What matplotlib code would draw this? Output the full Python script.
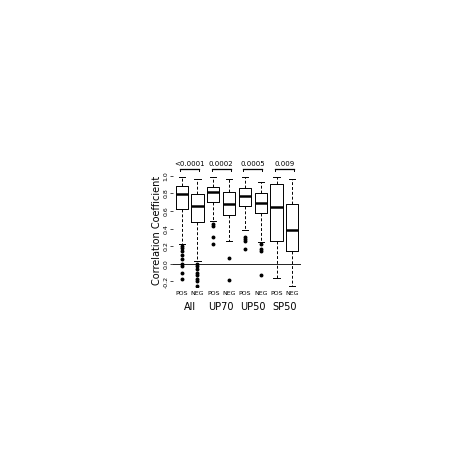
import matplotlib
matplotlib.use("Agg")
import matplotlib.pyplot as plt

groups = ["All", "UP70", "UP50", "SP50"]
pvals = ["<0.0001", "0.0002", "0.0005", "0.009"]
sub = ["POS", "NEG"]
# whislo, q1, med, q3, whishi
stats = [
    (0.23, 0.62, 0.79, 0.88, 0.98), (0.03, 0.48, 0.66, 0.79, 0.96),
    (0.49, 0.70, 0.81, 0.87, 0.98), (0.26, 0.55, 0.68, 0.81, 0.96),
    (0.38, 0.66, 0.77, 0.86, 0.98), (0.25, 0.58, 0.69, 0.80, 0.93),
    (-0.16, 0.26, 0.64, 0.91, 0.98), (-0.25, 0.15, 0.38, 0.68, 0.96),
]
fliers = [
    [0.2, 0.18, 0.15, 0.1, 0.05, 0.0, -0.02, -0.1, -0.17],
    [0.0, -0.03, -0.06, -0.1, -0.13, -0.17, -0.2, -0.25],
    [0.45, 0.43, 0.3, 0.22],
    [0.07, -0.18],
    [0.3, 0.28, 0.26, 0.17],
    [0.22, 0.17, 0.15, -0.13],
    [], [],
]

bxp = [dict(whislo=s[0], q1=s[1], med=s[2], q3=s[3], whishi=s[4], fliers=f)
       for s, f in zip(stats, fliers)]
pos = list(range(1, 9))

fig = plt.figure(figsize=(4.74, 4.74), dpi=100)
ax = fig.add_axes([0.365, 0.395, 0.27, 0.24])
ax.bxp(bxp, positions=pos, widths=0.78, showfliers=True,
       boxprops=dict(linewidth=0.7, color="black"),
       medianprops=dict(linewidth=1.8, color="black"),
       whiskerprops=dict(linewidth=0.7, color="black", linestyle=(0, (3, 2))),
       capprops=dict(linewidth=0.7, color="black"),
       flierprops=dict(marker="o", markersize=1.8, markerfacecolor="black",
                       markeredgecolor="black"))
ax.axhline(0, color="black", linewidth=0.6)
ax.set_xlim(0.45, 8.55)
ax.set_ylim(-0.26, 1.03)
for sp in ax.spines.values():
    sp.set_visible(False)
ax.set_yticks([-0.2, 0.0, 0.2, 0.4, 0.6, 0.8, 1.0])
ax.set_yticklabels(["-0.2", "0.0", "0.2", "0.4", "0.6", "0.8", "1.0"],
                   rotation=90, va="center", fontsize=4.5)
ax.tick_params(axis="y", length=2, width=0.5, pad=1)
ax.set_xticks(pos)
ax.set_xticklabels(sub * 4, fontsize=4.5)
ax.tick_params(axis="x", length=0, pad=3)
ax.set_ylabel("Correlation Coefficient", fontsize=7, labelpad=1)

for i, (g, p) in enumerate(zip(groups, pvals)):
    x0, x1 = pos[2 * i], pos[2 * i + 1]
    ax.text((x0 + x1) / 2, -0.43, g, ha="center", va="top", fontsize=7)
    ax.plot([x0 - 0.1, x1 + 0.1], [1.08, 1.08], color="black", lw=0.9, clip_on=False)
    for xx in (x0 - 0.1, x1 + 0.1):
        ax.plot([xx, xx], [1.05, 1.08], color="black", lw=0.7, clip_on=False)
    ax.text((x0 + x1) / 2, 1.1, p, ha="center", va="bottom", fontsize=5)

fig.savefig("out.png", dpi=100)
